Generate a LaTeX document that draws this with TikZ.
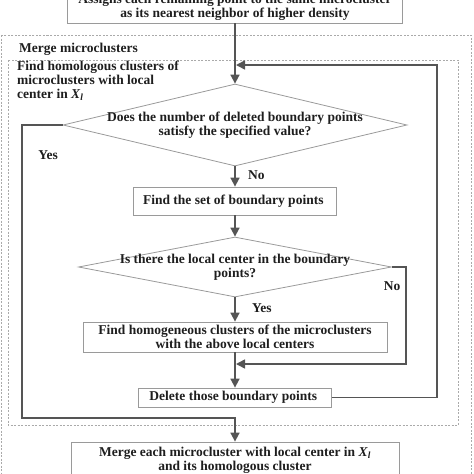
\documentclass[tikz,border=0pt]{standalone}
\usepackage{fontspec}
\setmainfont{Liberation Serif}
\usepackage{tikz}
\usetikzlibrary{positioning}
\usetikzlibrary{arrows.meta}
\usetikzlibrary{shapes.geometric}

\definecolor{boxgray}{HTML}{9A9A9A}
\definecolor{arrgray}{HTML}{555555}
\definecolor{framegray}{HTML}{AAAAAA}
\definecolor{textdark}{HTML}{1E1E1E}

\begin{document}
\begin{tikzpicture}[
    x=1pt, y=-1pt,
    font=\bfseries\fontsize{13.5}{14}\selectfont,
    text=textdark,
    box/.style={
        draw=boxgray,
        line width=0.8pt,
        inner sep=0pt,
        align=center
    },
    decision/.style={
        diamond,
        draw=boxgray,
        line width=0.8pt,
        inner sep=0pt,
        label={[align=center]center:#1}
    },
    arr/.style={
        draw=arrgray,
        line width=1.6pt,
        -{Triangle[width=9pt,length=9pt]}
    },
    frame/.style={
        draw=framegray,
        line width=0.8pt,
        dash pattern=on 2pt off 1.5pt
    }
]

\useasboundingbox (0,0) rectangle (474,474);

% --- Frames
\draw[frame] (1,35) rectangle (471,490);
\draw[frame] (8,60) rectangle (458,425);

\node[anchor=west, inner sep=0pt] (mergetitle) at (19,49) {Merge microclusters};
\node[anchor=west, inner sep=0pt, align=left] (findtitle) at (17,81) {
Find homologous clusters of\\
microclusters with local\\
center in \textit{X}\textsubscript{\textit{l}}
};

% --- Top
\node[box, minimum width=335pt, minimum height=32pt] (assign) at (235,7) {
Assigns each remaining point to the same microcluster\\
as its nearest neighbor of higher density
};

% --- Loop body
\node[decision={Does the number of deleted boundary points\\satisfy the specified value?},
      minimum width=344pt, minimum height=82pt] (check) at (235,125) {};

\node[box, minimum width=203pt, minimum height=28pt] (findset) at (235,201) {
Find the set of boundary points
};

\node[decision={Is there the local center in the boundary\\points?},
      minimum width=313pt, minimum height=60pt] (center) at (235,267) {};

\node[box, minimum width=304pt, minimum height=30pt] (homog) at (235,337) {
Find homogeneous clusters of the microclusters\\
with the above local centers
};

\node[box, minimum width=193pt, minimum height=19pt] (delete) at (235,397.5) {
Delete those boundary points
};

% --- Bottom
\node[box, minimum width=328pt, minimum height=36pt] (merge) at (235,460) {
Merge each microcluster with local center in \textit{X}\textsubscript{\textit{l}}\\
and its homologous cluster
};

% --- Bends
\coordinate (yescorner) at (22,418);
\coordinate (nocorner) at (406,364);
\coordinate (nojoin) at (236,364);
\coordinate (loopcorner) at (437,65);
\coordinate (loopjoin) at (236,65);

% --- Connections
\draw[arr] (assign) -- (check);
\draw[arr] (check) -- (findset);
\draw[arr] (findset) -- (center);
\draw[arr] (center) -- (homog);
\draw[arr] (homog) -- (delete);
\draw[arr] (check.west) -| (yescorner) -| (merge.north);
\draw[arr] (center.east) -| (nocorner) -- (nojoin);
\draw[arr] (delete.east) -| (loopcorner) -- (loopjoin);

% --- Labels
\node (yes1) at (48,155) {Yes};
\node[anchor=west, inner sep=0pt] (no1) at (248,175) {No};
\node (no2) at (392,286) {No};
\node[anchor=west, inner sep=0pt] (yes2) at (252,308) {Yes};

\end{tikzpicture}
\end{document}
